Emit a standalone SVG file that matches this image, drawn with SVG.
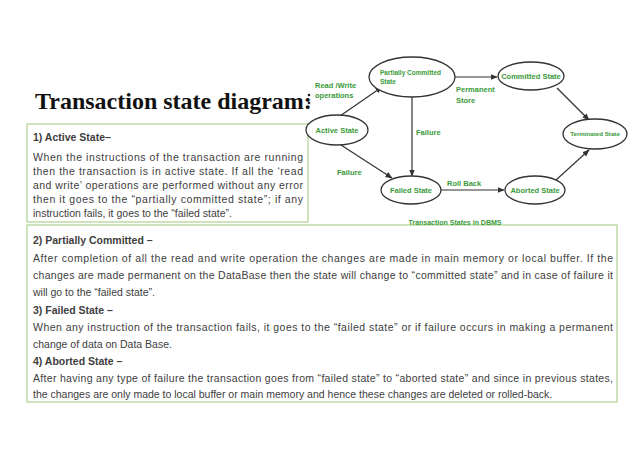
<svg xmlns="http://www.w3.org/2000/svg" width="638" height="451" viewBox="0 0 638 451">
<style>
.box{fill:none;stroke:#9bc97a;stroke-width:1}
.t{font-family:"Liberation Sans",sans-serif;font-size:10.5px;fill:#404040}
.h{font-family:"Liberation Sans",sans-serif;font-size:10.5px;fill:#404040;font-weight:bold}
.st{fill:#fff;stroke:#333;stroke-width:1.3}
.g{font-family:"Liberation Sans",sans-serif;font-weight:bold;fill:#3a9a3a}
.e{stroke:#333;stroke-width:1.2;fill:none;marker-end:url(#a)}
</style>
<defs><marker id="a" viewBox="0 0 10 10" refX="9" refY="5" markerWidth="6" markerHeight="6" orient="auto"><path d="M0 1L10 5L0 9z" fill="#333"/></marker></defs>
<rect width="638" height="451" fill="#fff"/>
<text x="35" y="109" font-family="Liberation Serif,serif" font-weight="bold" font-size="24" fill="#111">Transaction state diagram:</text>
<g id="box1">
<rect class="box" x="27" y="124" width="281" height="98"/>
<text class="h" x="33" y="141">1) Active State–</text>
<text class="t" x="33" y="161" textLength="270" lengthAdjust="spacing">When the instructions of the transaction are running</text>
<text class="t" x="33" y="175" textLength="270" lengthAdjust="spacing">then the transaction is in active state. If all the ‘read</text>
<text class="t" x="33" y="189" textLength="270" lengthAdjust="spacing">and write’ operations are performed without any error</text>
<text class="t" x="33" y="203" textLength="270" lengthAdjust="spacing">then it goes to the “partially committed state”; if any</text>
<text class="t" x="33" y="217">instruction fails, it goes to the “failed state”.</text>
</g>
<g id="box2">
<rect class="box" x="27" y="225" width="590" height="177"/>
<text class="h" x="33" y="244">2) Partially Committed –</text>
<text class="t" x="33" y="262" textLength="580" lengthAdjust="spacing">After completion of all the read and write operation the changes are made in main memory or local buffer. If the</text>
<text class="t" x="33" y="279" textLength="580" lengthAdjust="spacing">changes are made permanent on the DataBase then the state will change to “committed state” and in case of failure it</text>
<text class="t" x="33" y="296">will go to the “failed state”.</text>
<text class="h" x="33" y="314">3) Failed State –</text>
<text class="t" x="33" y="331" textLength="580" lengthAdjust="spacing">When any instruction of the transaction fails, it goes to the “failed state” or if failure occurs in making a permanent</text>
<text class="t" x="33" y="348">change of data on Data Base.</text>
<text class="h" x="33" y="365">4) Aborted State –</text>
<text class="t" x="33" y="382" textLength="580" lengthAdjust="spacing">After having any type of failure the transaction goes from “failed state” to “aborted state” and since in previous states,</text>
<text class="t" x="33" y="398">the changes are only made to local buffer or main memory and hence these changes are deleted or rolled-back.</text>
</g>
<circle cx="309" cy="95" r="1.3" fill="#222"/><circle cx="309" cy="103" r="1.3" fill="#222"/>
<g id="connectors">
<path class="e" d="M340 116L382 87"/>
<path class="e" d="M455 77L497 77"/>
<path class="e" d="M557 88L589 120"/>
<path class="e" d="M412 97L412 176"/>
<path class="e" d="M341 145L392 178"/>
<path class="e" d="M441 190L504 190"/>
<path class="e" d="M556 180L589 150"/>
</g>
<g class="g" font-size="7.5">
<text x="315" y="88">Read /Write</text><text x="315" y="98">operations</text>
<text x="456" y="92">Permanent</text><text x="456" y="103">Store</text>
<text x="416" y="135">Failure</text>
<text x="337" y="175">Failure</text>
<text x="447" y="186">Roll Back</text>
<text x="455" y="225" text-anchor="middle" font-size="7">Transaction States in DBMS</text>
</g>
<g id="pc"><ellipse class="st" cx="412" cy="77" rx="43" ry="20"/><text class="g" font-size="6.5" x="380" y="75">Partially Committed</text><text class="g" font-size="6.5" x="380" y="84">State</text></g>
<g id="committed"><ellipse class="st" cx="531" cy="76" rx="33" ry="14"/><text class="g" font-size="7.5" x="531" y="79" text-anchor="middle">Committed State</text></g>
<g id="active"><ellipse class="st" cx="337" cy="130" rx="31" ry="15"/><text class="g" font-size="7.5" x="337" y="133" text-anchor="middle">Active State</text></g>
<g id="terminated"><ellipse class="st" cx="595" cy="134" rx="32" ry="15"/><text class="g" font-size="6.2" x="595" y="136" text-anchor="middle">Terminated State</text></g>
<g id="failed"><ellipse class="st" cx="411" cy="190" rx="30" ry="14"/><text class="g" font-size="7.5" x="411" y="193" text-anchor="middle">Failed State</text></g>
<g id="aborted"><ellipse class="st" cx="535" cy="190" rx="30" ry="14"/><text class="g" font-size="7.5" x="535" y="193" text-anchor="middle">Aborted State</text></g>
</svg>
